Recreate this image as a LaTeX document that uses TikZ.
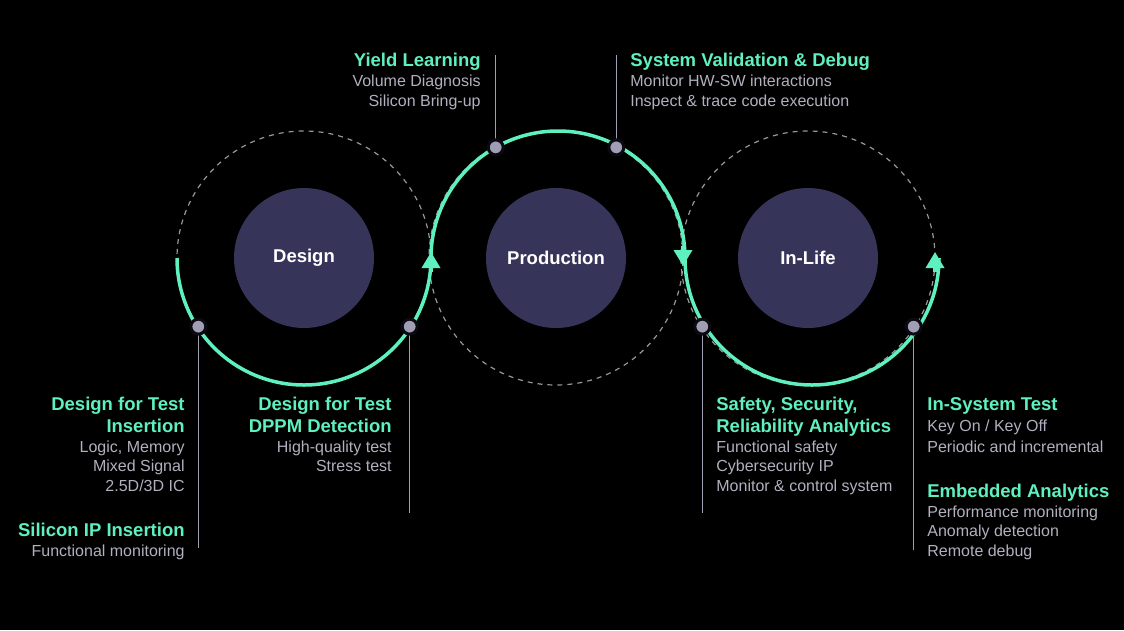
\documentclass[tikz,border=0pt]{standalone}
\usepackage{fontspec}
\setmainfont{Liberation Sans}
\usetikzlibrary{arrows.meta}
\definecolor{mymint}{RGB}{94, 240, 190}
\definecolor{mynavy}{RGB}{54, 52, 88}
\definecolor{mygrey}{RGB}{178, 176, 190}
\definecolor{mydot}{RGB}{160, 158, 178}
\definecolor{mydash}{RGB}{150, 150, 158}
\tikzset{every picture/.style={line width=0.75pt}}
\tikzset{
  hd/.style={text=mymint, font=\fontsize{18.5}{20}\selectfont\bfseries, inner sep=0pt},
  bd/.style={text=mygrey, font=\fontsize{16}{18}\selectfont, inner sep=0pt},
  stage/.style={circle, fill=mynavy, minimum size=140pt, text=white, font=\fontsize{18.5}{20}\selectfont\bfseries},
  ring/.style={draw=mydash, dash pattern=on 5pt off 5pt, line width=1.2pt},
  loop/.style={draw=mymint, line width=3.5pt},
  pin/.style={circle, fill=mydot, draw=black!80!mynavy, line width=3pt, minimum size=15pt, inner sep=0pt},
  lead/.style={draw=mydot, line width=1.2pt}
}
\begin{document}
\begin{tikzpicture}[x=1pt,y=1pt]
\fill[black] (0,0) rectangle (1124,-630);
\useasboundingbox (0,0) rectangle (1124,-630);

% stages
\foreach \nm/\cx/\lb in {design/304/Design, prod/556/Production, life/808/In-Life}{
  \draw[ring] (\cx,-258) circle (127);
  \node[stage] (\nm) at (\cx,-258) {\lb};
}

% green path
\draw[loop] (177,-258) arc[start angle=180, end angle=360, radius=127]
  arc[start angle=180, end angle=0, radius=127]
  arc[start angle=180, end angle=360, radius=127];
\draw[draw=mymint, line width=3.5pt, -{Triangle[length=16pt,width=18pt]}] (431,-272) -- (431,-252);
\draw[draw=mymint, line width=3.5pt, -{Triangle[length=16pt,width=18pt]}] (683,-246) -- (683,-266);
\draw[draw=mymint, line width=3.5pt, -{Triangle[length=16pt,width=18pt]}] (935,-272) -- (935,-252);

% pins and leads
\path (design) ++(213:126) coordinate (p1);
\path (design) ++(327:126) coordinate (p2);
\path (prod) ++(118.6:126) coordinate (p3);
\path (prod) ++(61.4:126) coordinate (p4);
\path (life) ++(213:126) coordinate (p5);
\path (life) ++(327:126) coordinate (p6);
\coordinate (e1) at (p1 |- 0,-548);
\coordinate (e2) at (p2 |- 0,-513);
\coordinate (e3) at (p3 |- 0,-55);
\coordinate (e4) at (p4 |- 0,-55);
\coordinate (e5) at (p5 |- 0,-513);
\coordinate (e6) at (p6 |- 0,-550);
\foreach \i in {1,...,6}{
  \draw[lead] (p\i) -- (e\i);
  \node[pin] (pin\i) at (p\i) {};
}

% labels, right aligned
\node[hd, anchor=base east] (t1a) at (185,-410) {Design for Test};
\node[hd, anchor=base east] (t1b) at (185,-432) {Insertion};
\foreach \y/\s in {447/{Logic, Memory}, 466/{Mixed Signal}, 486/{2.5D/3D IC}}
  \node[bd, anchor=base east] at (185,-\y-5) {\s};
\node[hd, anchor=base east] (t1c) at (185,-536) {Silicon IP Insertion};
\node[bd, anchor=base east] at (185,-556) {Functional monitoring};

\node[hd, anchor=base east] (t2a) at (392,-410) {Design for Test};
\node[hd, anchor=base east] (t2b) at (392,-432) {DPPM Detection};
\foreach \y/\s in {447/{High-quality test}, 466/{Stress test}}
  \node[bd, anchor=base east] at (392,-\y-5) {\s};

\node[hd, anchor=base east] (t3) at (481,-66) {Yield Learning};
\foreach \y/\s in {81/{Volume Diagnosis}, 101/{Silicon Bring-up}}
  \node[bd, anchor=base east] at (481,-\y-5) {\s};

% labels, left aligned
\node[hd, anchor=base west] (t4) at (630,-66) {System Validation \& Debug};
\foreach \y/\s in {81/{Monitor HW-SW interactions}, 101/{Inspect \& trace code execution}}
  \node[bd, anchor=base west] at (630,-\y-5) {\s};

\node[hd, anchor=base west] (t5a) at (716,-410) {Safety, Security,};
\node[hd, anchor=base west] (t5b) at (716,-432) {Reliability Analytics};
\foreach \y/\s in {447/{Functional safety}, 466/{Cybersecurity IP}, 486/{Monitor \& control system}}
  \node[bd, anchor=base west] at (716,-\y-5) {\s};

\node[hd, anchor=base west] (t6a) at (927,-410) {In-System Test};
\foreach \y/\s in {426/{Key On / Key Off}, 447/{Periodic and incremental}}
  \node[bd, anchor=base west] at (927,-\y-5) {\s};
\node[hd, anchor=base west] (t6b) at (927,-497) {Embedded Analytics};
\foreach \y/\s in {512/{Performance monitoring}, 531/{Anomaly detection}, 551/{Remote debug}}
  \node[bd, anchor=base west] at (927,-\y-5) {\s};

\end{tikzpicture}
\end{document}
